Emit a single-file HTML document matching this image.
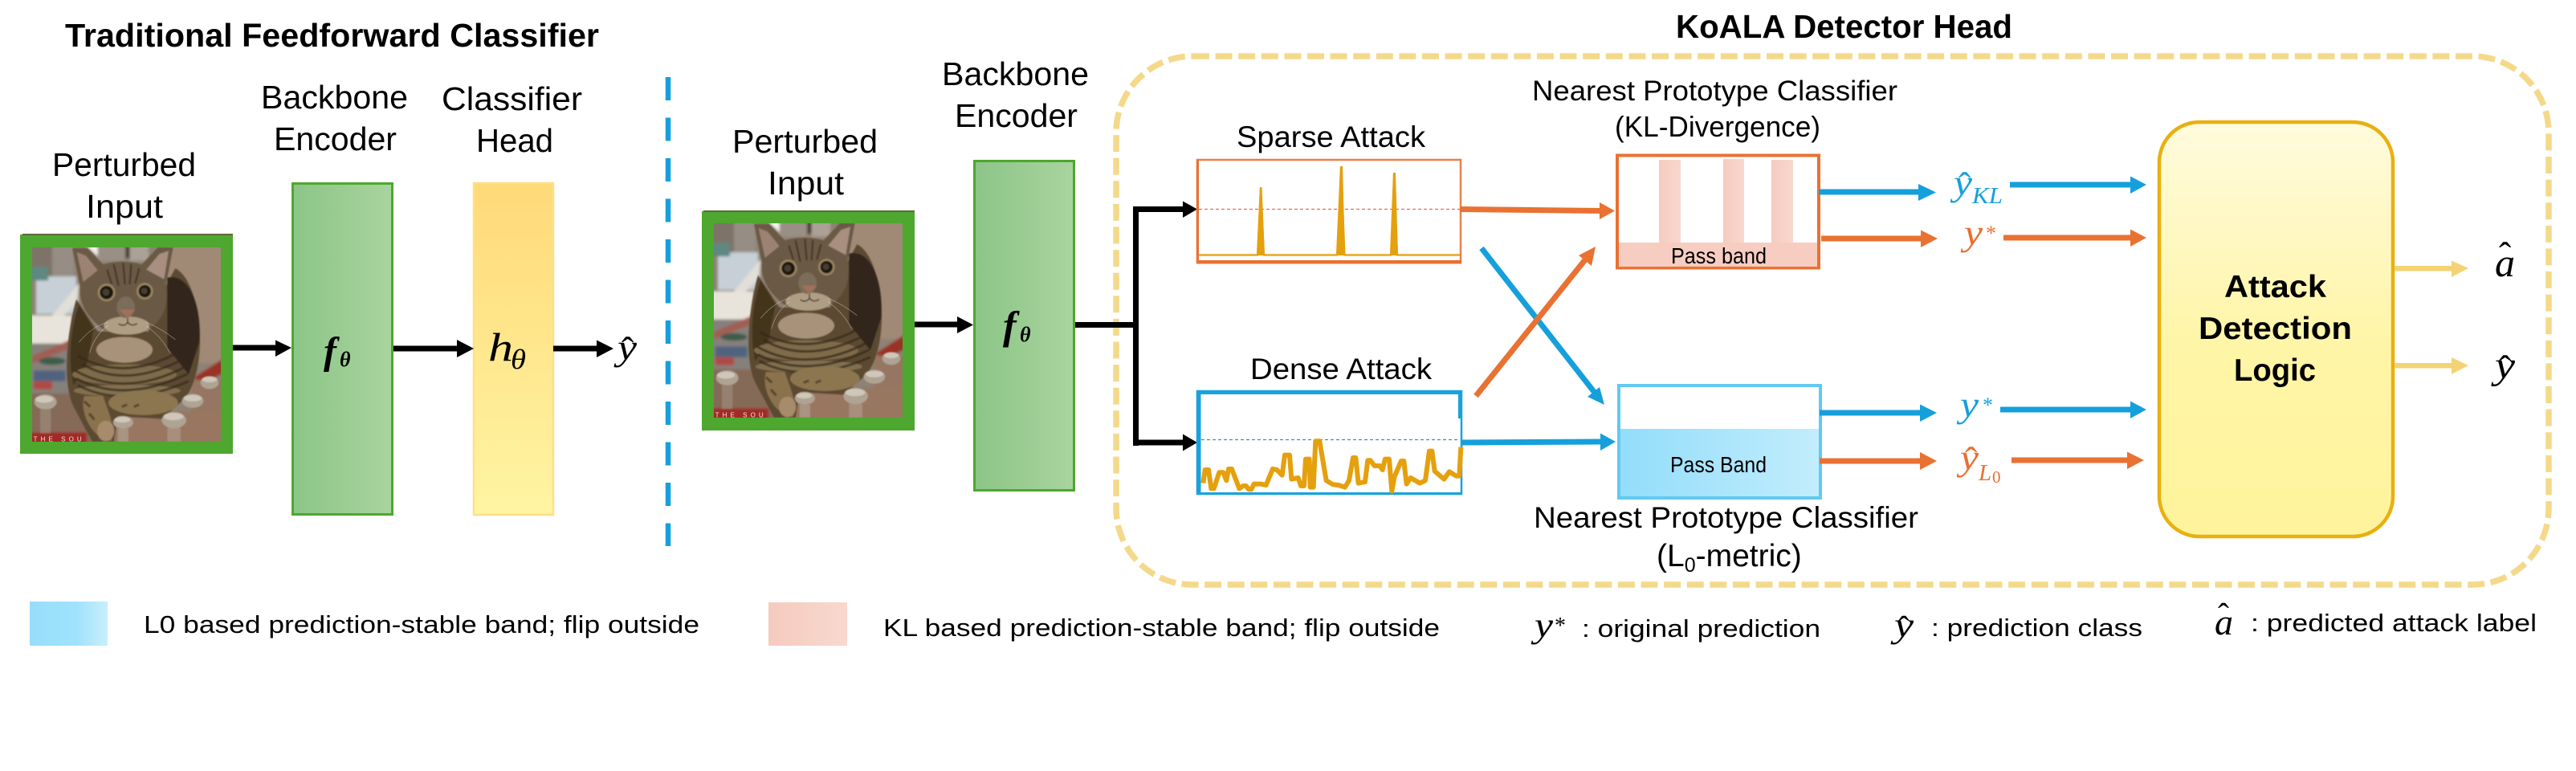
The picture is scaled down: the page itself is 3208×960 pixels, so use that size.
<!DOCTYPE html>
<html lang="en"><head><meta charset="utf-8"><title>KoALA Detector Head</title>
<style>
html,body{margin:0;padding:0;background:#fff;width:3208px;height:960px;overflow:hidden}
svg{display:block}
.s{font-family:"Liberation Sans",sans-serif;fill:#000}
.b{font-family:"Liberation Sans",sans-serif;font-weight:700;fill:#000}
.m{font-family:"Liberation Serif",serif;font-style:italic}
.u{font-family:"Liberation Serif",serif}
</style></head><body>
<svg xmlns="http://www.w3.org/2000/svg" width="3208" height="960" viewBox="0 0 3208 960">
<defs>
<linearGradient id="gG" x1="0" x2="1" y1="0" y2="0"><stop offset="0" stop-color="#8CC587"/><stop offset="1" stop-color="#A9D49E"/></linearGradient>
<linearGradient id="gY" x1="0" x2="0" y1="0" y2="1"><stop offset="0" stop-color="#FFD978"/><stop offset="1" stop-color="#FFF5A3"/></linearGradient>
<linearGradient id="gL" x1="0" x2="0" y1="0" y2="1"><stop offset="0" stop-color="#FFFBDD"/><stop offset=".55" stop-color="#FFF5A6"/><stop offset="1" stop-color="#FFF49C"/></linearGradient>
<linearGradient id="gB" x1="0" x2="1" y1="0" y2="0"><stop offset="0" stop-color="#93DDFB"/><stop offset="1" stop-color="#C2EDFC"/></linearGradient>
<linearGradient id="gB2" x1="0" x2="1" y1="0" y2="0"><stop offset="0" stop-color="#97DEFB"/><stop offset=".6" stop-color="#A0E2FC"/><stop offset="1" stop-color="#C8EFFC"/></linearGradient>
<linearGradient id="gR" x1="0" x2="1" y1="0" y2="0"><stop offset="0" stop-color="#F6CBBF"/><stop offset="1" stop-color="#F8D8CE"/></linearGradient>
<filter id="soft" x="-5%" y="-5%" width="110%" height="110%"><feGaussianBlur stdDeviation="5"/></filter>
<filter id="soft2" x="-5%" y="-5%" width="110%" height="110%"><feGaussianBlur stdDeviation="2.4"/></filter>
<clipPath id="catClip"><rect x="55" y="87" width="705" height="723"/></clipPath>
<g id="cat" clip-path="url(#catClip)">
 <g filter="url(#soft)">
  <rect x="45" y="77" width="725" height="743" fill="#8E8274"/>
  <rect x="560" y="77" width="210" height="440" fill="#A08A76"/>
  <rect x="45" y="77" width="85" height="120" fill="#7E7368"/>
  <rect x="130" y="77" width="80" height="120" fill="#968E84"/>
  <rect x="290" y="77" width="110" height="60" fill="#9A8F85"/>
  <rect x="405" y="77" width="14" height="50" fill="#40352E"/>
  <rect x="420" y="77" width="70" height="60" fill="#ABA196"/>
  <polygon points="255,80 300,80 300,120" fill="#F4F2EE"/>
  <rect x="70" y="195" width="150" height="140" fill="#C6D0D6"/>
  <rect x="45" y="160" width="70" height="50" fill="#5E8880"/>
  <polygon points="130,340 230,220 225,290 160,355" fill="#E2DED8"/>
  <rect x="45" y="340" width="160" height="105" fill="#E8E3DB"/>
  <rect x="45" y="445" width="155" height="195" fill="#86807C"/>
  <polygon points="55,490 200,430 205,460 55,520" fill="#A05E54"/>
  <ellipse cx="130" cy="510" rx="50" ry="14" fill="#3C5C4C"/>
  <rect x="60" y="545" width="120" height="40" fill="#506480"/>
  <rect x="60" y="585" width="70" height="30" fill="#B04844"/>
  <polygon points="660,570 770,500 770,555 680,600" fill="#9A3026"/>
  <rect x="650" y="580" width="120" height="240" fill="#967662"/>
  <rect x="45" y="630" width="310" height="190" fill="#866A58"/>
  <rect x="355" y="700" width="415" height="120" fill="#987660"/>
  <rect x="45" y="775" width="215" height="45" fill="#A02C28"/>
 </g>
 <g filter="url(#soft2)">
  <path d="M220 280 C180 420 170 600 210 680 L280 810 L360 810 L375 715 L540 725 L625 650 C665 600 690 500 680 380 C670 280 640 190 590 165 L560 220 L490 400 L300 400 Z" fill="#5C4A30"/>
  <path d="M560 200 C640 180 690 300 680 440 L640 560 L560 460 Z" fill="#30271C"/>
  <path d="M230 300 C195 400 190 520 210 600 L260 520 L285 390 Z" fill="#43351F"/>
  <ellipse cx="400" cy="468" rx="105" ry="48" fill="#A8927A"/>
  <ellipse cx="400" cy="560" rx="195" ry="38" fill="#7F6A4A"/>
  <ellipse cx="410" cy="620" rx="200" ry="22" fill="#82704E"/>
  <path d="M225 490 Q400 590 605 475 M215 545 Q400 650 630 530 M225 600 Q400 690 640 585 M240 520 Q400 615 615 505 M220 575 Q400 670 635 558" fill="none" stroke="#33281A" stroke-width="9" opacity=".7"/>
  <path d="M205 90 L262 90 L320 150 Q390 130 465 150 L525 87 L582 87 L555 225 Q572 330 500 385 Q410 425 320 392 Q225 320 235 235 Z" fill="#6A5A44"/>
  <polygon points="222,105 256,118 300,172 246,215" fill="#9C8272"/>
  <polygon points="565,100 530,112 482,170 548,205" fill="#A88F80"/>
  <ellipse cx="408" cy="378" rx="85" ry="34" fill="#B09E84"/>
  <ellipse cx="405" cy="310" rx="34" ry="40" fill="#7C6D5A"/>
  <path d="M360 150 L378 230 M395 145 L402 225 M425 150 L420 225 M335 170 L352 222 M455 165 L440 222" fill="none" stroke="#33281E" stroke-width="7" opacity=".65"/>
  <ellipse cx="470" cy="665" rx="130" ry="46" fill="#8C7650"/>
  <path d="M250 640 C230 700 280 800 350 808 C370 760 340 700 320 640 Z" fill="#8A724E"/>
  <ellipse cx="330" cy="770" rx="32" ry="38" fill="#A68C6A"/>
  <path d="M250 660 L272 680 M268 705 L288 728 M390 680 L410 672 M435 680 L455 672" fill="none" stroke="#33281A" stroke-width="9" opacity=".6"/>
  <circle cx="333" cy="255" r="33" fill="#988460"/><circle cx="333" cy="255" r="25" fill="#1E1810"/><circle cx="331" cy="254" r="13" fill="#463E30"/>
  <circle cx="476" cy="250" r="31" fill="#988460"/><circle cx="476" cy="250" r="23" fill="#1E1810"/><circle cx="474" cy="249" r="12" fill="#463E30"/>
  <polygon points="382,318 440,318 412,350" fill="#A07058"/>
  <path d="M412 350 L412 366 M378 372 Q400 384 412 366 Q428 384 448 370" stroke="#33281C" stroke-width="4" fill="none"/>
 </g>
 <g fill="none" stroke="#E8DFD0" stroke-width="2" opacity=".55">
  <path d="M340 365 Q280 380 230 440"/><path d="M340 378 Q290 410 270 480"/>
  <path d="M480 365 Q540 390 590 430"/><path d="M480 378 Q540 420 570 480"/>
 </g>
 <g filter="url(#soft2)">
  <g fill="#AFA494"><ellipse cx="105" cy="662" rx="42" ry="28"/><ellipse cx="395" cy="738" rx="38" ry="24"/><ellipse cx="585" cy="730" rx="46" ry="30"/><ellipse cx="655" cy="658" rx="40" ry="26"/><ellipse cx="718" cy="590" rx="34" ry="24"/></g>
  <g fill="#CFC7B9"><ellipse cx="100" cy="652" rx="34" ry="13"/><ellipse cx="392" cy="728" rx="30" ry="11"/><ellipse cx="583" cy="716" rx="38" ry="14"/><ellipse cx="655" cy="648" rx="34" ry="12"/><ellipse cx="718" cy="578" rx="28" ry="11"/></g>
  <rect x="85" y="688" width="40" height="90" fill="#A09080" opacity=".6"/>
  <rect x="375" y="762" width="40" height="48" fill="#B0A08E" opacity=".7"/>
  <rect x="560" y="758" width="50" height="52" fill="#B0A08E" opacity=".6"/>
 </g>
 <text x="60" y="808" class="s" font-size="24" style="fill:#F2E6DE" textLength="180" lengthAdjust="spacing">THE SOU</text>
</g>
</defs>

<!-- Dashed container -->
<rect x="1390" y="70" width="1784" height="658" rx="95" ry="95" fill="#fff" stroke="#F4D98B" stroke-width="7.5" stroke-dasharray="21 7.6"/>

<!-- Titles -->
<text x="81" y="58" class="b" font-size="41" textLength="665" lengthAdjust="spacingAndGlyphs">Traditional Feedforward Classifier</text>
<text x="2087" y="47" class="b" font-size="41" textLength="419" lengthAdjust="spacingAndGlyphs">KoALA Detector Head</text>

<!-- Left column labels -->
<text x="65" y="219" class="s" font-size="41" textLength="179" lengthAdjust="spacingAndGlyphs">Perturbed</text>
<text x="107" y="271" class="s" font-size="41" textLength="96" lengthAdjust="spacingAndGlyphs">Input</text>
<text x="325" y="135" class="s" font-size="41" textLength="183" lengthAdjust="spacingAndGlyphs">Backbone</text>
<text x="341" y="187" class="s" font-size="41" textLength="153" lengthAdjust="spacingAndGlyphs">Encoder</text>
<text x="550" y="137" class="s" font-size="41" textLength="175" lengthAdjust="spacingAndGlyphs">Classifier</text>
<text x="593" y="189" class="s" font-size="41" textLength="96" lengthAdjust="spacingAndGlyphs">Head</text>

<!-- Left frame + image -->
<rect x="25" y="292" width="265" height="273" fill="#4EA72E"/>
<rect x="28" y="291" width="262" height="2" fill="#5E6A3A"/>
<use href="#cat" transform="translate(40 308) scale(.3333 .3347) translate(-55 -87)"/>

<!-- Left encoder + head -->
<rect x="364.5" y="228.5" width="124" height="412" fill="url(#gG)" stroke="#4EA72E" stroke-width="3"/>
<rect x="590" y="228" width="99" height="413" fill="url(#gY)" stroke="#FFDF85" stroke-width="2.5"/>
<text x="403" y="453" class="u" font-size="48" font-style="italic" font-weight="700" fill="#000">f</text>
<text x="423" y="456" class="u" font-size="26" font-style="italic" font-weight="700" fill="#000">θ</text>
<text x="608" y="449" class="m" font-size="50" fill="#000" textLength="31" lengthAdjust="spacingAndGlyphs">h</text>
<text x="636" y="459" class="m" font-size="35" fill="#000" textLength="19" lengthAdjust="spacingAndGlyphs">θ</text>

<!-- Left arrows -->
<g fill="#000">
<rect x="290" y="429.5" width="55" height="7"/><polygon points="343,423.5 363,433 343,444"/>
<rect x="490" y="430.5" width="81" height="7"/><polygon points="569,423 590,434 569,445"/>
<rect x="689" y="430.5" width="56" height="7"/><polygon points="743,423.5 764,434 743,445"/>
</g>
<text x="769" y="448" class="m" font-size="46" fill="#000" textLength="24" lengthAdjust="spacingAndGlyphs">y</text>
<text x="774" y="451" class="u" font-size="46" fill="#000">ˆ</text>

<!-- Divider -->
<line x1="832" y1="96" x2="832" y2="680" stroke="#15A0DB" stroke-width="6.5" stroke-dasharray="29 21.5"/>

<!-- Second column labels -->
<text x="912" y="190" class="s" font-size="41" textLength="181" lengthAdjust="spacingAndGlyphs">Perturbed</text>
<text x="956" y="242" class="s" font-size="41" textLength="95" lengthAdjust="spacingAndGlyphs">Input</text>
<text x="1173" y="106" class="s" font-size="41" textLength="183" lengthAdjust="spacingAndGlyphs">Backbone</text>
<text x="1189" y="158" class="s" font-size="41" textLength="153" lengthAdjust="spacingAndGlyphs">Encoder</text>

<rect x="874" y="263" width="265" height="273" fill="#4EA72E"/>
<rect x="876" y="262" width="263" height="2" fill="#5E6A3A"/>
<use href="#cat" transform="translate(889 278) scale(.3333 .3347) translate(-55 -87)"/>

<rect x="1213.5" y="200.5" width="124" height="410" fill="url(#gG)" stroke="#4EA72E" stroke-width="3"/>
<text x="1249" y="422" class="u" font-size="50" font-style="italic" font-weight="700" fill="#000">f</text>
<text x="1270" y="425" class="u" font-size="26" font-style="italic" font-weight="700" fill="#000">θ</text>

<!-- Black arrows -->
<g fill="#000">
<rect x="1139" y="400.5" width="55" height="7"/><polygon points="1192,394 1212,404.5 1192,415"/>
<rect x="1339" y="401" width="79" height="7"/>
<rect x="1411" y="257" width="7" height="298"/>
<rect x="1411" y="257" width="64" height="7"/><polygon points="1473,250.5 1491,260.5 1473,271"/>
<rect x="1411" y="547.5" width="64" height="7"/><polygon points="1473,540.5 1491,551 1473,561.5"/>
</g>

<!-- Attack labels -->
<text x="1540" y="183" class="s" font-size="37" textLength="235" lengthAdjust="spacingAndGlyphs">Sparse Attack</text>
<text x="1557" y="472" class="s" font-size="37" textLength="226" lengthAdjust="spacingAndGlyphs">Dense Attack</text>

<!-- Sparse box -->
<rect x="1491" y="199" width="328" height="128" fill="#fff" stroke="#E9804A" stroke-width="2.5"/>
<rect x="1490" y="199" width="3" height="129" fill="#E97132"/>
<rect x="1490" y="324" width="330" height="4.5" fill="#E97132"/>
<line x1="1493" y1="260.5" x2="1818" y2="260.5" stroke="#E56B55" stroke-width="1.2" stroke-dasharray="4 3"/>
<polyline points="1493,317.5 1566,317.5 1570,234 1574,317.5 1665,317.5 1670,208 1674.5,317.5 1732,317.5 1736,216 1740,317.5 1818,317.5" fill="none" stroke="#E5A00D" stroke-width="2.2"/>
<g fill="#E5A00D">
<polygon points="1565,318 1569,233 1571.5,233 1575,318"/>
<polygon points="1665,318 1669,207 1672,207 1675,318"/>
<polygon points="1732,318 1735,215 1738,215 1741,318"/>
</g>

<!-- Dense box -->
<rect x="1491" y="487" width="329" height="128" fill="#fff" stroke="#1AA2DC" stroke-width="2.5"/>
<rect x="1490.5" y="486" width="330" height="5" fill="#1AA2DC"/>
<rect x="1490.5" y="486" width="5" height="130" fill="#1AA2DC"/>
<rect x="1816" y="486" width="5" height="35" fill="#1AA2DC"/>
<rect x="1490.5" y="613" width="330" height="3" fill="#1AA2DC"/>
<line x1="1496" y1="547.5" x2="1816" y2="547.5" stroke="#4A8CA8" stroke-width="1.2" stroke-dasharray="4 3"/>
<g transform="translate(1470 180) scale(.3333)">
<polyline points="85,1265 92,1215 105,1215 115,1285 125,1285 145,1225 160,1225 172,1255 180,1212 192,1212 220,1285 235,1275 245,1275 255,1288 265,1288 275,1268 300,1268 320,1272 345,1212 360,1215 380,1235 390,1160 408,1160 415,1250 440,1245 450,1275 462,1275 468,1175 482,1175 485,1280 497,1280 505,1108 520,1108 545,1255 570,1270 590,1272 615,1280 630,1255 645,1170 655,1170 665,1265 690,1260 700,1180 710,1180 725,1200 745,1200 755,1215 765,1175 780,1175 790,1295 800,1240 825,1182 835,1182 845,1268 860,1245 895,1265 915,1255 930,1145 940,1145 950,1220 985,1250 1005,1222 1030,1238 1042,1238 1048,1130" fill="none" stroke="#E5A00D" stroke-width="18" stroke-linejoin="round"/>
</g>

<!-- NPC labels -->
<text x="1908" y="125" class="s" font-size="35" textLength="455" lengthAdjust="spacingAndGlyphs">Nearest Prototype Classifier</text>
<text x="2011" y="170" class="s" font-size="36" textLength="256" lengthAdjust="spacingAndGlyphs">(KL-Divergence)</text>
<text x="1910" y="657" class="s" font-size="37" textLength="479" lengthAdjust="spacingAndGlyphs">Nearest Prototype Classifier</text>
<text x="2063" y="705" class="s" font-size="39">(L<tspan font-size="25" dy="7">0</tspan><tspan dy="-7">-metric)</tspan></text>

<!-- KL box -->
<rect x="2014" y="193.5" width="251" height="140" fill="#fff" stroke="#E97132" stroke-width="4"/>
<g fill="url(#gR)">
<rect x="2066" y="199" width="27" height="104"/>
<rect x="2146" y="198" width="26" height="105"/>
<rect x="2206" y="199" width="27" height="104"/>
</g>
<rect x="2016" y="302" width="247" height="30" fill="#F7CDC2"/>
<text x="2081" y="328" class="s" font-size="28" textLength="119" lengthAdjust="spacingAndGlyphs">Pass band</text>

<!-- L0 box -->
<rect x="2016" y="480" width="251" height="140" fill="#fff" stroke="#62C9F1" stroke-width="4"/>
<rect x="2018" y="534" width="247" height="84" fill="url(#gB)"/>
<text x="2080" y="588" class="s" font-size="28" textLength="120" lengthAdjust="spacingAndGlyphs">Pass Band</text>

<!-- Middle arrows -->
<g fill="#E97132">
<polygon points="1818,257 1994,259 1994,266 1818,264"/><polygon points="1992,252 2011,262.5 1992,273"/>
<rect x="2268" y="293.5" width="126" height="7"/><polygon points="2392,286.5 2413,297 2392,308"/>
<rect x="2266" y="570.5" width="127" height="7"/><polygon points="2391,563 2412,574 2391,585"/>
<rect x="2495" y="292.5" width="160" height="7"/><polygon points="2653,285.5 2673,296 2653,307"/>
<rect x="2505" y="569.5" width="146" height="7"/><polygon points="2649,562.5 2670,573 2649,584"/>
</g>
<g fill="#15A0DB">
<polygon points="1820,547.5 1995,546.5 1995,553.5 1820,554.5"/><polygon points="1993,539.5 2012,550 1993,561"/>
<rect x="2265" y="235.5" width="126" height="7"/><polygon points="2389,229 2411,239.5 2389,250"/>
<rect x="2266" y="510.5" width="127" height="7"/><polygon points="2391,503.5 2412,514 2391,525"/>
<rect x="2503" y="226.5" width="152" height="7"/><polygon points="2653,219.5 2673,230 2653,241"/>
<rect x="2491" y="506.5" width="164" height="7"/><polygon points="2653,499.5 2673,510 2653,521"/>
</g>

<!-- Crossing arrows -->
<line x1="1845" y1="309" x2="1986" y2="489" stroke="#15A0DB" stroke-width="7"/>
<polygon points="1998,504 1977,494 1992,482" fill="#15A0DB"/>
<line x1="1838" y1="493" x2="1976" y2="321" stroke="#E97132" stroke-width="7"/>
<polygon points="1987,307 1982,331 1966,318" fill="#E97132"/>

<!-- Math outputs -->
<g fill="#15A0DB">
<text x="2433" y="243" class="m" font-size="46" textLength="23" lengthAdjust="spacingAndGlyphs">y</text>
<text x="2439" y="246" class="u" font-size="46">ˆ</text>
<text x="2456" y="253" class="m" font-size="29" textLength="38" lengthAdjust="spacingAndGlyphs">KL</text>
<text x="2441" y="519" class="m" font-size="46" textLength="23" lengthAdjust="spacingAndGlyphs">y</text>
<text x="2469" y="513" class="u" font-size="26">*</text>
</g>
<g fill="#E96F32">
<text x="2446" y="305" class="m" font-size="46" textLength="23" lengthAdjust="spacingAndGlyphs">y</text>
<text x="2473" y="299" class="u" font-size="26">*</text>
<text x="2441" y="585" class="m" font-size="46" textLength="23" lengthAdjust="spacingAndGlyphs">y</text>
<text x="2447" y="588" class="u" font-size="46">ˆ</text>
<text x="2464" y="598" class="m" font-size="29">L</text>
<text x="2481" y="601" class="u" font-size="21">0</text>
</g>

<!-- Logic block -->
<rect x="2689" y="152" width="291" height="516" rx="50" ry="50" fill="url(#gL)" stroke="#E8B010" stroke-width="4.5"/>
<text x="2770" y="370" class="b" font-size="39" textLength="127" lengthAdjust="spacingAndGlyphs">Attack</text>
<text x="2738" y="422" class="b" font-size="39" textLength="191" lengthAdjust="spacingAndGlyphs">Detection</text>
<text x="2782" y="474" class="b" font-size="39" textLength="102" lengthAdjust="spacingAndGlyphs">Logic</text>

<g fill="#F3D375">
<rect x="2982" y="331" width="73" height="6.5"/><polygon points="3053,324.5 3074,334 3053,345"/>
<rect x="2982" y="452" width="73" height="6.5"/><polygon points="3053,445 3074,455 3053,466"/>
</g>
<text x="3107" y="344" class="m" font-size="50" fill="#000" textLength="25" lengthAdjust="spacingAndGlyphs">a</text>
<text x="3112" y="333" class="u" font-size="46" fill="#000">ˆ</text>
<text x="3107" y="471" class="m" font-size="48" fill="#000" textLength="25" lengthAdjust="spacingAndGlyphs">y</text>
<text x="3112" y="474" class="u" font-size="46" fill="#000">ˆ</text>

<!-- Legend -->
<rect x="37" y="749" width="97" height="55" fill="url(#gB2)"/>
<text x="179" y="788" class="s" font-size="31" textLength="692" lengthAdjust="spacingAndGlyphs">L0 based prediction-stable band; flip outside</text>
<rect x="957" y="750" width="98" height="54" fill="url(#gR)"/>
<text x="1100" y="792" class="s" font-size="31" textLength="693" lengthAdjust="spacingAndGlyphs">KL based prediction-stable band; flip outside</text>
<text x="1911" y="793" class="m" font-size="44" fill="#000" textLength="23" lengthAdjust="spacingAndGlyphs">y</text>
<text x="1936" y="788" class="u" font-size="28" fill="#000">*</text>
<text x="1970" y="793" class="s" font-size="31" textLength="297" lengthAdjust="spacingAndGlyphs">: original prediction</text>
<text x="2359" y="793" class="m" font-size="44" fill="#000" textLength="24" lengthAdjust="spacingAndGlyphs">y</text>
<text x="2364" y="796" class="u" font-size="42" fill="#000">ˆ</text>
<text x="2405" y="792" class="s" font-size="31" textLength="263" lengthAdjust="spacingAndGlyphs">: prediction class</text>
<text x="2758" y="790" class="m" font-size="46" fill="#000" textLength="23" lengthAdjust="spacingAndGlyphs">a</text>
<text x="2762" y="780" class="u" font-size="42" fill="#000">ˆ</text>
<text x="2803" y="786" class="s" font-size="31" textLength="356" lengthAdjust="spacingAndGlyphs">: predicted attack label</text>
</svg>
</body></html>
